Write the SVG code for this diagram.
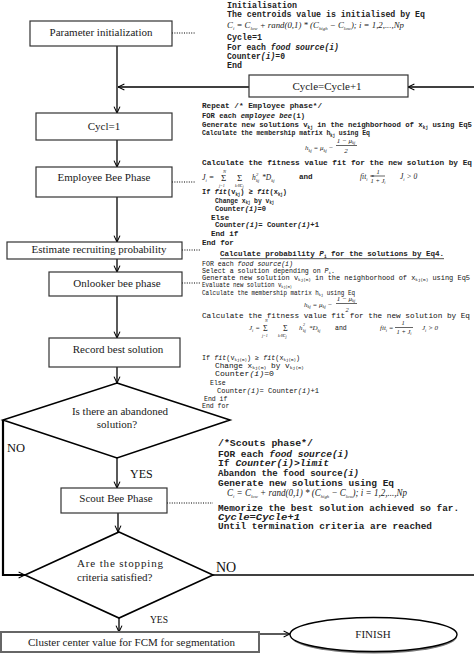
<svg xmlns="http://www.w3.org/2000/svg" width="474" height="654" viewBox="0 0 474 654">
<defs>
<marker id="ah" viewBox="0 0 10 10" refX="9.5" refY="5" markerWidth="7.5" markerHeight="7.5" markerUnits="userSpaceOnUse" orient="auto">
<path d="M1,1 L9.5,5 L1,9" fill="none" stroke="#000" stroke-width="1.4"/>
</marker>
<style>
.box{fill:#fff;stroke:#333;stroke-width:1.2}
.dia{fill:#fff;stroke:#000;stroke-width:1.6}
.lbl{font-family:"Liberation Serif",serif;font-size:11px;fill:#1a1a1a;text-anchor:middle}
.con{fill:none;stroke:#000;stroke-width:1.3}
.dot{fill:none;stroke:#000;stroke-width:1.2;stroke-dasharray:1 1.4}
.code{font-family:"Liberation Mono",monospace;fill:#222;font-weight:bold}
.f1{font-size:8.2px}
.f2{font-size:7.6px}
.f3{font-size:6.5px;font-weight:normal;fill:#111}
.f4{font-size:9px}
.it{font-style:italic}
.eq{font-family:"Liberation Serif",serif;font-style:italic;fill:#222}
.up{font-family:"Liberation Serif",serif;font-style:normal;fill:#222}
</style>
</defs>
<rect width="474" height="654" fill="#fff"/>

<g id="connectors">
<line class="con" x1="117" y1="46" x2="117" y2="113" marker-end="url(#ah)"/>
<line class="con" x1="474" y1="87" x2="408" y2="87" marker-end="url(#ah)"/>
<line class="con" x1="249" y1="87" x2="118" y2="87" marker-end="url(#ah)"/>
<line class="con" x1="117" y1="140" x2="117" y2="167" marker-end="url(#ah)"/>
<line class="con" x1="117" y1="197" x2="117" y2="242" marker-end="url(#ah)"/>
<line class="con" x1="117" y1="259" x2="117" y2="272" marker-end="url(#ah)"/>
<line class="con" x1="117" y1="296" x2="117" y2="338" marker-end="url(#ah)"/>
<line class="con" x1="117" y1="367" x2="117" y2="383" marker-end="url(#ah)"/>
<line class="con" x1="117" y1="458" x2="117" y2="488" marker-end="url(#ah)"/>
<line class="con" x1="118" y1="513" x2="118" y2="532" marker-end="url(#ah)"/>
<polyline fill="none" stroke="#000" stroke-width="2.2" points="3,420 3,575 25,575" marker-end="url(#ah)"/>
<line class="con" x1="213" y1="575" x2="474" y2="575"/>
<line class="con" x1="119" y1="618" x2="119" y2="632" marker-end="url(#ah)"/>
<line class="con" x1="259" y1="634" x2="290" y2="634" marker-end="url(#ah)"/>
<line class="dot" x1="172" y1="33" x2="195" y2="33"/>
<line class="dot" x1="172" y1="182" x2="195" y2="182"/>
<line class="dot" x1="182" y1="250" x2="200" y2="250"/>
<line class="dot" x1="182" y1="283" x2="200" y2="283"/>
<line class="dot" x1="167" y1="503" x2="213" y2="503"/>
<text x="7" y="452" font-family="Liberation Serif,serif" font-size="12.5" fill="#111">NO</text>
<text x="216" y="572" font-family="Liberation Serif,serif" font-size="14" fill="#111">NO</text>
<text x="130" y="478" font-family="Liberation Serif,serif" font-size="12" fill="#111">YES</text>
<text x="150" y="623" font-family="Liberation Serif,serif" font-size="9.5" fill="#111">YES</text>
</g>

<g id="param-init">
<rect class="box" x="30" y="21" width="142" height="25"/>
<text class="lbl" x="101" y="36" font-size="11.5">Parameter initialization</text>
</g>
<g id="cycle-inc">
<rect class="box" x="249" y="75" width="159" height="22"/>
<text class="lbl" x="327" y="90">Cycle=Cycle+1</text>
</g>
<g id="cycl1">
<rect class="box" x="36" y="113" width="136" height="27"/>
<text class="lbl" x="104" y="130" font-size="11.5">Cycl=1</text>
</g>
<g id="employee">
<rect class="box" x="36" y="167" width="136" height="30"/>
<text class="lbl" x="104" y="181">Employee Bee Phase</text>
</g>
<g id="estimate">
<rect class="box" x="7" y="242" width="175" height="17"/>
<text class="lbl" x="99" y="253">Estimate recruiting probability</text>
</g>
<g id="onlooker">
<rect class="box" x="49" y="272" width="133" height="24"/>
<text class="lbl" x="117" y="287" font-size="11.5">Onlooker bee phase</text>
</g>
<g id="record">
<rect class="box" x="49" y="338" width="131" height="29"/>
<text class="lbl" x="118" y="353">Record best solution</text>
</g>
<g id="abandoned">
<polygon class="dia" points="117,383 230,420 117,458 3,420"/>
<text class="lbl" x="120" y="415" font-size="9.5">Is there an abandoned</text>
<text class="lbl" x="117" y="428" font-size="9.8">solution?</text>
</g>
<g id="scout">
<rect class="box" x="61" y="488" width="106" height="25"/>
<text class="lbl" x="116" y="502">Scout Bee Phase</text>
</g>
<g id="stopping">
<polygon class="dia" points="119,532 213,575 119,618 25,575"/>
<text class="lbl" x="77" y="567" font-size="10.6" style="text-anchor:start" textLength="86" lengthAdjust="spacing">Are the stopping</text>
<text class="lbl" x="77" y="581" font-size="10.6" style="text-anchor:start">criteria satisfied?</text>
</g>
<g id="cluster">
<rect x="1" y="632" width="258" height="20" fill="#fff" stroke="#666" stroke-width="2"/>
<text class="lbl" x="28" y="645.5" style="text-anchor:start" textLength="207" lengthAdjust="spacingAndGlyphs">Cluster center value for FCM for segmentation</text>
</g>
<g id="finish">
<ellipse cx="374" cy="636.5" rx="83" ry="17" fill="#777"/>
<ellipse cx="373.5" cy="634.5" rx="83.5" ry="17" fill="#fff" stroke="#000" stroke-width="1.4"/>
<text class="lbl" x="373" y="638" font-size="9.5">FINISH</text>
</g>

<g id="init-code">
<text class="code f1" x="227" y="8" textLength="70" lengthAdjust="spacingAndGlyphs">Initialisation</text>
<text class="code f1" x="227" y="17" textLength="198" lengthAdjust="spacingAndGlyphs">The centroids value is initialised by Eq</text>
<text class="eq" x="227" y="28" font-size="9" textLength="177" lengthAdjust="spacingAndGlyphs">C<tspan font-size="5" dy="1.5">i</tspan><tspan dy="-1.5"> = C</tspan><tspan font-size="5" dy="1.5">low</tspan><tspan dy="-1.5"> + rand(0,1) * (C</tspan><tspan font-size="5" dy="1.5">high</tspan><tspan dy="-1.5"> − C</tspan><tspan font-size="5" dy="1.5">low</tspan><tspan dy="-1.5">);   i = 1,2,...,Np</tspan></text>
<text class="code f1" x="227" y="40" textLength="35" lengthAdjust="spacingAndGlyphs">Cycle=1</text>
<text class="code f1" x="227" y="50" textLength="112" lengthAdjust="spacingAndGlyphs">For each <tspan class="it">food source(i)</tspan></text>
<text class="code f1" x="227" y="59" textLength="58" lengthAdjust="spacingAndGlyphs">Counter<tspan class="it">(i)</tspan>=0</text>
<text class="code f1" x="227" y="68" textLength="15" lengthAdjust="spacingAndGlyphs">End</text>
</g>

<g id="employee-code">
<text class="code f2" x="202" y="108" textLength="120" lengthAdjust="spacingAndGlyphs">Repeat /* Employee phase*/</text>
<text class="code f2" x="202" y="118" textLength="103" lengthAdjust="spacingAndGlyphs">FOR each <tspan class="it">employee bee</tspan>(i)</text>
<text class="code f2" x="202" y="127" textLength="270" lengthAdjust="spacingAndGlyphs">Generate new solutions v<tspan font-size="4.5" dy="1.5">kj</tspan><tspan dy="-1.5"> in the neighborhood of x</tspan><tspan font-size="4.5" dy="1.5">kj</tspan><tspan dy="-1.5"> using Eq5</tspan></text>
<text class="code f2" x="202" y="135" textLength="168" lengthAdjust="spacingAndGlyphs">Calculate the membership matrix h<tspan font-size="4.5" dy="1.5">kj</tspan><tspan dy="-1.5"> using Eq</tspan></text>
<text class="eq" x="305" y="150" font-size="7">h<tspan font-size="4.5" dy="1.5">kj</tspan><tspan dy="-1.5"> = μ</tspan><tspan font-size="4.5" dy="1.5">kj</tspan><tspan dy="-1.5"> −</tspan></text>
<text class="eq" x="346" y="142.5" font-size="7" text-anchor="middle">1 − μ<tspan font-size="4.5" dy="1.5">kj</tspan></text>
<line x1="336" y1="145.5" x2="357" y2="145.5" stroke="#222" stroke-width="0.7"/>
<text class="eq" x="346" y="153" font-size="7" text-anchor="middle">2</text>
<text class="code f2" x="202" y="165" textLength="270" lengthAdjust="spacingAndGlyphs">Calculate the fitness value fit for the new solution by Eq</text>
<text class="eq" x="202" y="180" font-size="8">J<tspan font-size="4.5" dy="1.5">i</tspan><tspan dy="-1.5"> =</tspan></text>
<text class="up" x="221" y="181" font-size="9">Σ</text>
<text class="eq" x="223" y="173" font-size="4.5">N</text>
<text class="eq" x="219" y="187" font-size="4">j=1</text>
<text class="up" x="237" y="181" font-size="9">Σ</text>
<text class="eq" x="235" y="187" font-size="4">k∈C<tspan dy="1">j</tspan></text>
<text class="eq" x="252" y="180" font-size="7.5">h</text>
<text class="eq" x="256" y="176" font-size="4.5">2</text>
<text class="eq" x="256" y="182" font-size="4.5">kj</text>
<text class="eq" x="262" y="180" font-size="7.5">*D<tspan font-size="4.5" dy="1.5">kj</tspan></text>
<text class="code f2" x="299" y="179">and</text>
<text class="eq" x="360" y="179" font-size="7.5">fit<tspan font-size="4.5" dy="1.5">i</tspan><tspan dy="-1.5"> =</tspan></text>
<text class="eq" x="378" y="173.5" font-size="6.5" text-anchor="middle">1</text>
<line x1="372" y1="176" x2="385" y2="176" stroke="#222" stroke-width="0.7"/>
<text class="eq" x="378" y="183" font-size="6.5" text-anchor="middle">1 + J<tspan font-size="4" dy="1">i</tspan></text>
<text class="eq" x="400" y="179" font-size="7.5">J<tspan font-size="4.5" dy="1.5">i</tspan><tspan dy="-1.5"> &gt; 0</tspan></text>
<text class="code f2" x="202" y="194" textLength="85" lengthAdjust="spacingAndGlyphs">If <tspan class="it">fit</tspan>(v<tspan font-size="4.5" dy="1.5">kj</tspan><tspan dy="-1.5">) ≥ </tspan><tspan class="it">fit</tspan>(x<tspan font-size="4.5" dy="1.5">kj</tspan><tspan dy="-1.5">)</tspan></text>
<text class="code f2" x="215" y="202.5" textLength="59" lengthAdjust="spacingAndGlyphs">Change x<tspan font-size="4.5" dy="1.2">kj</tspan><tspan dy="-1.2"> by v</tspan><tspan font-size="4.5" dy="1.2">kj</tspan></text>
<text class="code f2" x="215" y="210.5" textLength="51" lengthAdjust="spacingAndGlyphs">Counter<tspan class="it">(i)</tspan>=0</text>
<text class="code f2" x="211" y="220">Else</text>
<text class="code f2" x="215" y="227" textLength="104" lengthAdjust="spacingAndGlyphs">Counter<tspan class="it">(i)</tspan>= Counter<tspan class="it">(i)</tspan>+1</text>
<text class="code f2" x="211" y="236">End if</text>
<text class="code f2" x="202" y="245">End for</text>
</g>

<g id="onlooker-code">
<text class="code" x="220" y="256" font-size="7.6" textLength="224" lengthAdjust="spacingAndGlyphs">Calculate probability <tspan class="it">P</tspan><tspan font-size="4.5" dy="1.5">i</tspan><tspan dy="-1.5"> for the solutions by Eq4.</tspan></text>
<line x1="220" y1="258.7" x2="444" y2="258.7" stroke="#222" stroke-width="0.8"/>
<text class="code f3" x="202" y="266" textLength="91" lengthAdjust="spacingAndGlyphs">FOR each <tspan class="it">food source(i)</tspan></text>
<text class="code f3" x="202" y="273" textLength="133" lengthAdjust="spacingAndGlyphs">Select a solution depending on <tspan class="it">P</tspan><tspan font-size="4" dy="1.2">i</tspan><tspan dy="-1.2">.</tspan></text>
<text class="code f3" x="202" y="280" textLength="268" lengthAdjust="spacingAndGlyphs">Generate new solution v<tspan font-size="4" dy="1.2">kj(m)</tspan><tspan dy="-1.2"> in the neighborhood of x</tspan><tspan font-size="4" dy="1.2">kj(m)</tspan><tspan dy="-1.2"> using Eq5</tspan></text>
<text class="code f3" x="202" y="287" textLength="90" lengthAdjust="spacingAndGlyphs">Evaluate new solution v<tspan font-size="4" dy="1.2">kj(m)</tspan></text>
<text class="code f3" x="202" y="294.5" textLength="153" lengthAdjust="spacingAndGlyphs">Calculate the membership matrix h<tspan font-size="4" dy="1.2">kj</tspan><tspan dy="-1.2"> using Eq</tspan></text>
<text class="eq" x="304" y="306.5" font-size="7">h<tspan font-size="4.5" dy="1.5">kj</tspan><tspan dy="-1.5"> = μ</tspan><tspan font-size="4.5" dy="1.5">kj</tspan><tspan dy="-1.5"> −</tspan></text>
<text class="eq" x="346" y="300.5" font-size="7" text-anchor="middle">1 − μ<tspan font-size="4.5" dy="1.5">kj</tspan></text>
<line x1="336" y1="303.5" x2="357" y2="303.5" stroke="#222" stroke-width="0.7"/>
<text class="eq" x="347" y="311.5" font-size="6.5" text-anchor="middle">2</text>
<text class="code f3" x="202" y="318" textLength="268" lengthAdjust="spacingAndGlyphs">Calculate the fitness value fit for the new solution by Eq</text>
<text class="eq" x="249" y="330" font-size="7">J<tspan font-size="4.5" dy="1.5">i</tspan><tspan dy="-1.5"> =</tspan></text>
<text class="up" x="263" y="331" font-size="8">Σ</text>
<text class="eq" x="265" y="322" font-size="4">N</text>
<text class="eq" x="262" y="337" font-size="4">j=1</text>
<text class="up" x="283" y="331" font-size="8">Σ</text>
<text class="eq" x="278" y="337" font-size="4">k∈C<tspan dy="1">j</tspan></text>
<text class="eq" x="299" y="330" font-size="7">h</text>
<text class="eq" x="303" y="326" font-size="4">2</text>
<text class="eq" x="303" y="332" font-size="4">kj</text>
<text class="eq" x="309" y="330" font-size="7">*D<tspan font-size="4" dy="1.5">kj</tspan></text>
<text class="code f3" x="335" y="330">and</text>
<text class="eq" x="380" y="330" font-size="7">fit<tspan font-size="4.5" dy="1.5">i</tspan><tspan dy="-1.5"> =</tspan></text>
<text class="eq" x="403" y="324.5" font-size="6.5" text-anchor="middle">1</text>
<line x1="395" y1="327.5" x2="413" y2="327.5" stroke="#222" stroke-width="0.7"/>
<text class="eq" x="404" y="334" font-size="6.5" text-anchor="middle">1 + J<tspan font-size="4" dy="1">i</tspan></text>
<text class="eq" x="422" y="330" font-size="7">J<tspan font-size="4.5" dy="1.5">i</tspan><tspan dy="-1.5"> &gt; 0</tspan></text>
<text class="code f3" x="202" y="360" textLength="98" lengthAdjust="spacingAndGlyphs">If <tspan class="it">fit</tspan>(v<tspan font-size="4" dy="1.2">kj(m)</tspan><tspan dy="-1.2">) ≥ </tspan><tspan class="it">fit</tspan>(x<tspan font-size="4" dy="1.2">kj(m)</tspan><tspan dy="-1.2">)</tspan></text>
<text class="code f3" x="215" y="368" textLength="89" lengthAdjust="spacingAndGlyphs">Change x<tspan font-size="4" dy="1.2">kj(m)</tspan><tspan dy="-1.2"> by v</tspan><tspan font-size="4" dy="1.2">kj(m)</tspan></text>
<text class="code f3" x="215" y="376" textLength="59" lengthAdjust="spacingAndGlyphs">Counter<tspan class="it">(i)</tspan>=0</text>
<text class="code f3" x="210" y="385">Else</text>
<text class="code f3" x="217" y="393" textLength="102" lengthAdjust="spacingAndGlyphs">Counter<tspan class="it">(i)</tspan>= Counter<tspan class="it">(i)</tspan>+1</text>
<text class="code f3" x="204" y="401">End if</text>
<text class="code f3" x="202" y="408">End for</text>
</g>

<g id="scout-code">
<text class="code f4" x="218" y="446" textLength="95" lengthAdjust="spacingAndGlyphs">/*Scouts phase*/</text>
<text class="code f4" x="218" y="457" textLength="131" lengthAdjust="spacingAndGlyphs">FOR each <tspan class="it">food source(i)</tspan></text>
<text class="code f4" x="218" y="466" textLength="111" lengthAdjust="spacingAndGlyphs">If <tspan class="it">Counter(i)&gt;limit</tspan></text>
<text class="code f4" x="218" y="476" textLength="141" lengthAdjust="spacingAndGlyphs">Abandon the food source<tspan class="it">(i)</tspan></text>
<text class="code f4" x="218" y="486" textLength="176" lengthAdjust="spacingAndGlyphs">Generate new solutions using Eq</text>
<text class="eq" x="227" y="496" font-size="9.5" textLength="180" lengthAdjust="spacingAndGlyphs">C<tspan font-size="5" dy="1.5">i</tspan><tspan dy="-1.5"> = C</tspan><tspan font-size="5" dy="1.5">low</tspan><tspan dy="-1.5"> + rand(0,1) * (C</tspan><tspan font-size="5" dy="1.5">high</tspan><tspan dy="-1.5"> − C</tspan><tspan font-size="5" dy="1.5">low</tspan><tspan dy="-1.5">);   i = 1,2,...,Np</tspan></text>
<text class="code f4" x="218" y="511" textLength="241" lengthAdjust="spacingAndGlyphs">Memorize the best solution achieved so far.</text>
<text class="code f4 it" x="218" y="519.5" textLength="82" lengthAdjust="spacingAndGlyphs">Cycle=Cycle+1</text>
<text class="code f4" x="218" y="529" textLength="214" lengthAdjust="spacingAndGlyphs">Until termination criteria are reached</text>
</g>
</svg>
